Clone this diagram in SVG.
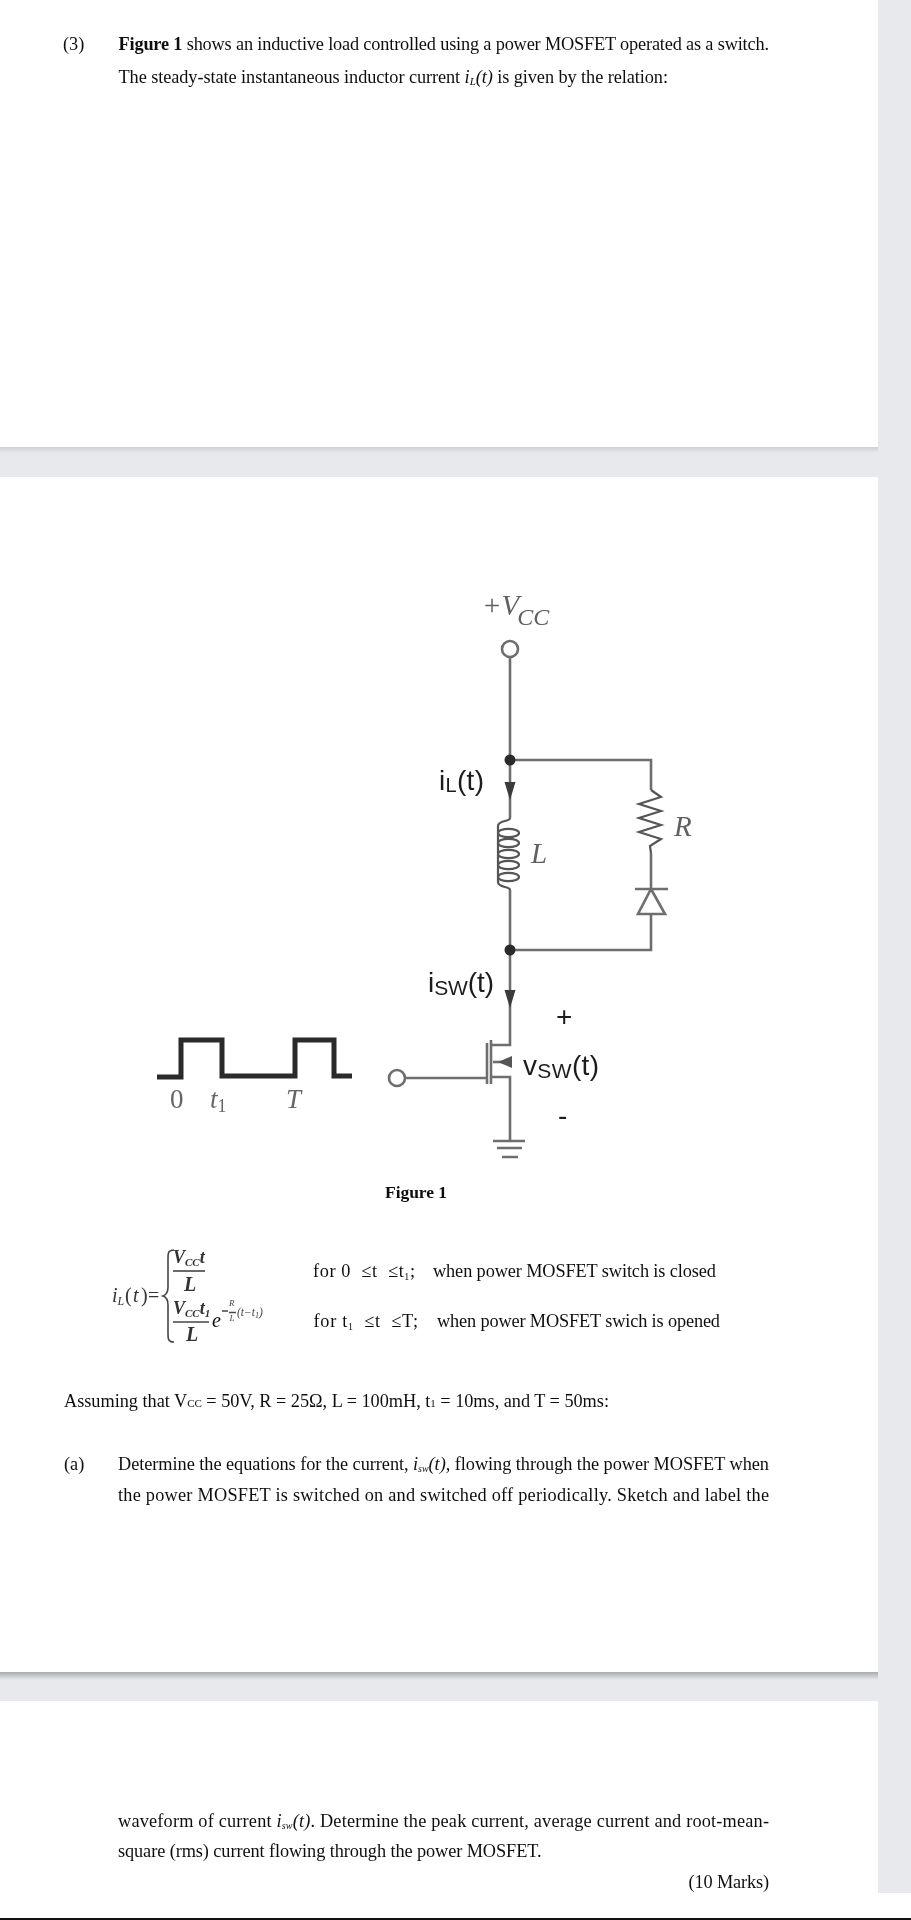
<svg xmlns="http://www.w3.org/2000/svg" width="911" height="1920" viewBox="0 0 911 1920">
<style>
text{font-family:"Liberation Serif","Times New Roman",serif;fill:#111;white-space:pre}
.b{font-size:18.3px}
.bd{font-weight:bold}
.it{font-style:italic}
.sans{font-family:"Liberation Sans",Arial,sans-serif;font-size:28px;fill:#1c1c1c}
.lab{font-size:29px;font-style:italic;fill:#606060}
.wl{font-size:27px;fill:#666}
.f{font-style:italic;font-weight:bold;font-size:18px;fill:#333}
.w{fill:none;stroke:#6e6e6e;stroke-width:2.6}
.c{fill:none;stroke:#555;stroke-width:2.2}
.pulse{fill:none;stroke:#2b2b2b;stroke-width:5}
.bar{fill:none;stroke:#444;stroke-width:1.6}
.dot{fill:#2b2b2b}
.gray{fill:#e8e9ec}
</style>
<defs>
<filter id="soft" filterUnits="userSpaceOnUse" x="0" y="0" width="911" height="1920"><feGaussianBlur stdDeviation="0.4"/></filter>
<linearGradient id="sh1" x1="0" y1="0" x2="0" y2="1"><stop offset="0" stop-color="#cfd0d3"/><stop offset="1" stop-color="#e8e9ec"/></linearGradient>
<linearGradient id="sh2" x1="0" y1="0" x2="0" y2="1"><stop offset="0" stop-color="#a9aaad"/><stop offset="1" stop-color="#e8e9ec"/></linearGradient>
<marker id="ah" markerUnits="userSpaceOnUse" markerWidth="12" markerHeight="20" refX="6" refY="18" orient="0"><path d="M0.5 0H11.5L6 18Z" fill="#3a3a3a"/></marker>
</defs>
<rect width="911" height="1920" fill="#fff"/>
<g id="page-chrome">
<rect class="gray" x="878" y="0" width="33" height="1893"/>
<rect class="gray" x="0" y="447" width="878" height="30"/>
<rect fill="url(#sh1)" x="0" y="447" width="878" height="6"/>
<rect class="gray" x="0" y="1672" width="878" height="29"/>
<rect fill="url(#sh2)" x="0" y="1672" width="878" height="8"/>
<rect fill="#111" x="0" y="1918" width="911" height="2"/>
</g>
<g id="diagram" filter="url(#soft)">
<g id="intro-text">
<text class="b" x="63" y="50">(3)</text>
<text class="b" x="118.500" y="50" textLength="650.500"><tspan class="bd">Figure 1</tspan> shows an inductive load controlled using a power MOSFET operated as a switch.</text>
<text class="b" x="118.500" y="83" textLength="549.500">The steady-state instantaneous inductor current <tspan class="it">i</tspan><tspan class="it" font-size="11" dy="2">L</tspan><tspan class="it" dy="-2">(t)</tspan> is given by the relation:</text>
</g>
<g id="connectors">
<path class="w" d="M510 657V760H651V790"/>
<path class="w" d="M651 853V889"/>
<path class="w" d="M651 914V950H510"/>
<path class="w" d="M510 760V800" marker-end="url(#ah)"/>
<path class="w" d="M510 800V818"/>
<path class="w" d="M510 890V950"/>
<path class="w" d="M510 950V1008" marker-end="url(#ah)"/>
<path class="w" d="M510 1008V1045H491"/>
<path class="w" d="M491 1077H510V1141"/>
<path class="w" d="M405 1078H447" stroke-width="3.200"/>
<path class="w" d="M447 1078H487" stroke-width="2.200"/>
</g>
<g id="vcc-terminal">
<circle cx="510" cy="649" r="8" fill="#fff" stroke="#6e6e6e" stroke-width="2.600"/>
<text class="lab" x="482" y="615">+V<tspan font-size="24" dy="10" dx="-2">CC</tspan></text>
</g>
<g id="node-top"><circle class="dot" cx="510" cy="760" r="5.500"/></g>
<g id="node-bottom"><circle class="dot" cx="510" cy="950" r="5.500"/></g>
<g id="il-label"><text class="sans" x="439" y="790" textLength="45">i<tspan font-size="20" dy="2">L</tspan><tspan dy="-2">(t)</tspan></text></g>
<g id="inductor">
<path class="c" d="M510 818C510 822 498 820 498 826V882C498 888 510 886 510 890"/>
<g class="c">
<ellipse cx="508.500" cy="833" rx="10.500" ry="4.200"/>
<ellipse cx="508.500" cy="843" rx="10.500" ry="4.200"/>
<ellipse cx="508.500" cy="854" rx="10.500" ry="4.200"/>
<ellipse cx="508.500" cy="865" rx="10.500" ry="4.200"/>
<ellipse cx="508.500" cy="877" rx="10.500" ry="4.200"/>
</g>
<text class="lab" x="531" y="863">L</text>
</g>
<g id="resistor">
<path class="c" d="M651 790L661 797 639 804 661 811 639 818 661 825 639 832 661 839 650 846 651 853"/>
<text class="lab" x="674" y="836">R</text>
</g>
<g id="diode">
<path class="w" d="M635 889H668"/>
<path class="w" d="M651 889L665 914H638Z"/>
</g>
<g id="isw-label"><text class="sans" x="428" y="992" textLength="66">i<tspan font-size="21" dy="3">SW</tspan><tspan dy="-3">(t)</tspan></text></g>
<g id="vsw-label">
<text class="sans" x="556" y="1026">+</text>
<text class="sans" x="523" y="1075" textLength="76">v<tspan font-size="21" dy="3">SW</tspan><tspan dy="-3">(t)</tspan></text>
<text class="sans" x="558" y="1125">-</text>
</g>
<g id="mosfet">
<path class="w" d="M487 1043V1084" stroke-width="2"/>
<path class="w" d="M491 1040V1084" stroke-width="3"/>
<path class="w" d="M493 1062H511"/>
<path d="M498 1062L512 1056V1068Z" fill="#555"/>
</g>
<g id="gate-terminal"><circle cx="397" cy="1078" r="8" fill="#fff" stroke="#6e6e6e" stroke-width="2.600"/></g>
<g id="ground">
<path class="w" d="M493 1141H525M497 1148H522M502 1157H518" stroke-width="2.600"/>
</g>
<g id="pulse-train">
<path class="pulse" d="M157 1077H181V1040H222V1076H295V1040H334V1076H352"/>
<text class="wl" x="170" y="1108">0</text>
<text class="wl it" x="210" y="1108">t<tspan font-size="18" dy="4" font-style="normal">1</tspan></text>
<text class="wl it" x="286" y="1108">T</text>
</g>
<g id="figure-caption"><text class="b bd" x="385" y="1198" textLength="62" style="font-size:17.5px">Figure 1</text></g>
<g id="formula">
<text class="f" y="1302" style="font-size:20px;font-weight:normal"><tspan x="112">i</tspan><tspan style="font-size:12px" dy="3">L</tspan><tspan x="125" dy="-3" font-style="normal">(</tspan><tspan x="133">t</tspan><tspan x="141" font-style="normal">)</tspan><tspan x="148" font-style="normal">=</tspan></text>
<path class="bar" d="M174 1250C168 1250 168 1253 168 1258V1287C168 1292 166 1295 163 1296C166 1297 168 1300 168 1305V1334C168 1339 168 1342 174 1342"/>
<text class="f" x="173" y="1263">V<tspan style="font-size:11px" dy="3">CC</tspan><tspan dy="-3">t</tspan></text>
<path class="bar" d="M173 1271H205"/>
<text class="f" x="184" y="1291" style="font-size:20px">L</text>
<text class="f" x="173" y="1314">V<tspan style="font-size:11px" dy="3">CC</tspan><tspan dy="-3">t</tspan><tspan style="font-size:11px" dy="3">1</tspan></text>
<path class="bar" d="M173 1322H209"/>
<text class="f" x="186" y="1341" style="font-size:20px">L</text>
<text class="it" x="212" y="1327" style="font-size:20px">e</text>
<path class="bar" d="M222 1311H228M229 1312.500H236" stroke-width="1"/>
<text class="it" x="229" y="1306" style="font-size:9px;fill:#444">R</text>
<text class="it" x="229.500" y="1321" style="font-size:9px;fill:#444">L</text>
<text class="it" x="237" y="1316" style="font-size:11.500px;fill:#444">(t−t<tspan style="font-size:8px" dy="2">1</tspan><tspan dy="-2">)</tspan></text>
</g>
<g id="conditions">
<text class="b" x="313" y="1277" textLength="102">for 0  ≤t  ≤t<tspan style="font-size:10px" dy="3">1</tspan><tspan dy="-3">;</tspan></text>
<text class="b" x="433" y="1277" textLength="283">when power MOSFET switch is closed</text>
<text class="b" x="313.500" y="1327" textLength="104.500">for t<tspan style="font-size:10px" dy="3">1</tspan><tspan dy="-3">  ≤t  ≤T;</tspan></text>
<text class="b" x="437" y="1327" textLength="283">when power MOSFET swich is opened</text>
</g>
<g id="question-text">
<text class="b" x="64" y="1407" textLength="545">Assuming that V<tspan style="font-size:11px">CC</tspan> = 50V, R = 25Ω, L = 100mH, t<tspan style="font-size:11px">1</tspan> = 10ms, and T = 50ms:</text>
<text class="b" x="64" y="1470">(a)</text>
<text class="b" x="118" y="1470" textLength="651">Determine the equations for the current, <tspan class="it">i</tspan><tspan class="it" style="font-size:10px" dy="2">sw</tspan><tspan class="it" dy="-2">(t)</tspan>, flowing through the power MOSFET when</text>
<text class="b" x="118" y="1501" textLength="651">the power MOSFET is switched on and switched off periodically. Sketch and label the</text>
<text class="b" x="118" y="1827" textLength="651">waveform of current <tspan class="it">i</tspan><tspan class="it" style="font-size:10px" dy="2">sw</tspan><tspan class="it" dy="-2">(t)</tspan>. Determine the peak current, average current and root-mean-</text>
<text class="b" x="118" y="1857" textLength="423.500">square (rms) current flowing through the power MOSFET.</text>
<text class="b" x="688.500" y="1888" textLength="80.500">(10 Marks)</text>
</g>
</g>
</svg>
